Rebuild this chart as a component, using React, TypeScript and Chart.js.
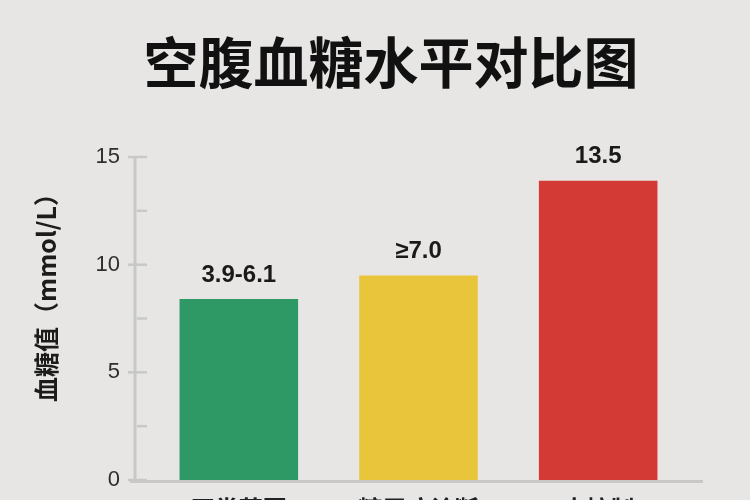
import React, { useEffect, useRef } from "react";
import { Chart, registerables } from "chart.js";

Chart.register(...registerables);

const categories = ["正常范围", "糖尿病诊断", "未控制"];
const values = [8.4, 9.5, 13.9];
const valueLabels = ["3.9-6.1", "≥7.0", "13.5"];
const barColors = ["#2f9966", "#e9c53b", "#d33a36"];
const majorTicks = [0, 5, 10, 15];
const minorTicks = [2.5, 7.5, 12.5];
const chartTitle = "空腹血糖水平对比图";
const yAxisTitle = "血糖值（mmol/L）";

const BG = "#e7e6e4";
const AXIS = "#c8c8c7";
const CJK = "'Noto Sans CJK SC', 'Noto Sans', sans-serif";
const LAT = "'Liberation Sans', Arial, sans-serif";

const decor = {
  id: "decor",
  beforeDraw(chart: any) {
    const { ctx, width, height } = chart;
    ctx.save();
    ctx.fillStyle = BG;
    ctx.fillRect(0, 0, width, height);
    ctx.restore();
  },
  afterDatasetsDraw(chart: any) {
    const { ctx, chartArea } = chart;
    const ys = chart.scales.y;
    const axisX = chartArea.left - 14;
    const y0 = ys.getPixelForValue(0);
    const yTop = ys.getPixelForValue(majorTicks[majorTicks.length - 1]);
    ctx.save();
    ctx.strokeStyle = AXIS;
    ctx.lineWidth = 3;
    ctx.beginPath();
    ctx.moveTo(axisX, yTop);
    ctx.lineTo(axisX, y0 + 1);
    ctx.stroke();
    ctx.beginPath();
    ctx.moveTo(axisX - 5, y0 + 1.5);
    ctx.lineTo(chartArea.right + 15, y0 + 1.5);
    ctx.stroke();
    ctx.lineWidth = 2.5;
    majorTicks.forEach((v) => {
      const py = ys.getPixelForValue(v);
      ctx.beginPath();
      ctx.moveTo(axisX - 7, py);
      ctx.lineTo(axisX + 12, py);
      ctx.stroke();
    });
    minorTicks.forEach((v) => {
      const py = ys.getPixelForValue(v);
      ctx.beginPath();
      ctx.moveTo(axisX + 2, py);
      ctx.lineTo(axisX + 12, py);
      ctx.stroke();
    });
    ctx.restore();

    // value labels
    const meta = chart.getDatasetMeta(0);
    ctx.save();
    ctx.fillStyle = "#1a1a1a";
    ctx.font = `bold 24px ${LAT}`;
    ctx.textAlign = "center";
    ctx.textBaseline = "middle";
    meta.data.forEach((bar: any, i: number) => {
      ctx.fillText(valueLabels[i], bar.x, bar.y - 24);
    });
    ctx.restore();
  },
  afterDraw(chart: any) {
    const { ctx, chartArea } = chart;
    ctx.save();
    ctx.fillStyle = "#111111";
    ctx.font = `bold 55px ${CJK}`;
    ctx.textAlign = "center";
    ctx.textBaseline = "middle";
    ctx.fillText(chartTitle, 391, 62);
    ctx.restore();

    ctx.save();
    ctx.fillStyle = "#1c1c1c";
    ctx.font = `bold 25px ${CJK}`;
    ctx.textAlign = "center";
    ctx.textBaseline = "middle";
    ctx.translate(46, (chartArea.top + chartArea.bottom) / 2 - 27);
    ctx.rotate(-Math.PI / 2);
    ctx.fillText(yAxisTitle, 0, 0);
    ctx.restore();
  },
};

export default function App() {
  const ref = useRef<HTMLCanvasElement | null>(null);

  useEffect(() => {
    document.body.style.margin = "0";
    const canvas = ref.current;
    if (!canvas) return;
    const chart = new Chart(canvas, {
      type: "bar",
      data: {
        labels: categories,
        datasets: [
          {
            data: values,
            backgroundColor: barColors,
            borderWidth: 0,
            barPercentage: 0.66,
            categoryPercentage: 1,
          },
        ],
      },
      options: {
        responsive: false,
        animation: false,
        devicePixelRatio: 1,
        layout: { padding: { top: 157, right: 62, bottom: 0, left: 0 } },
        plugins: {
          legend: { display: false },
          tooltip: { enabled: false },
          title: { display: false },
        },
        scales: {
          x: {
            grid: { display: false, drawTicks: false },
            border: { display: false },
            ticks: {
              color: "#222222",
              font: { family: CJK, size: 24, weight: "bold" },
              padding: 14,
              maxRotation: 0,
            },
            afterFit: (s: any) => {
              s.height = 60;
            },
          },
          y: {
            min: 0,
            max: 15,
            grid: { display: false, drawTicks: false },
            border: { display: false },
            ticks: {
              stepSize: 5,
              color: "#2e2e2e",
              font: { family: LAT, size: 22 },
              padding: 29,
            },
            afterFit: (s: any) => {
              s.width = 149;
            },
          },
        },
      },
      plugins: [decor],
    });
    return () => chart.destroy();
  }, []);

  return (
    <div style={{ width: 750, height: 500, overflow: "hidden", background: BG }}>
      <canvas ref={ref} width={750} height={540} style={{ display: "block" }} />
    </div>
  );
}
